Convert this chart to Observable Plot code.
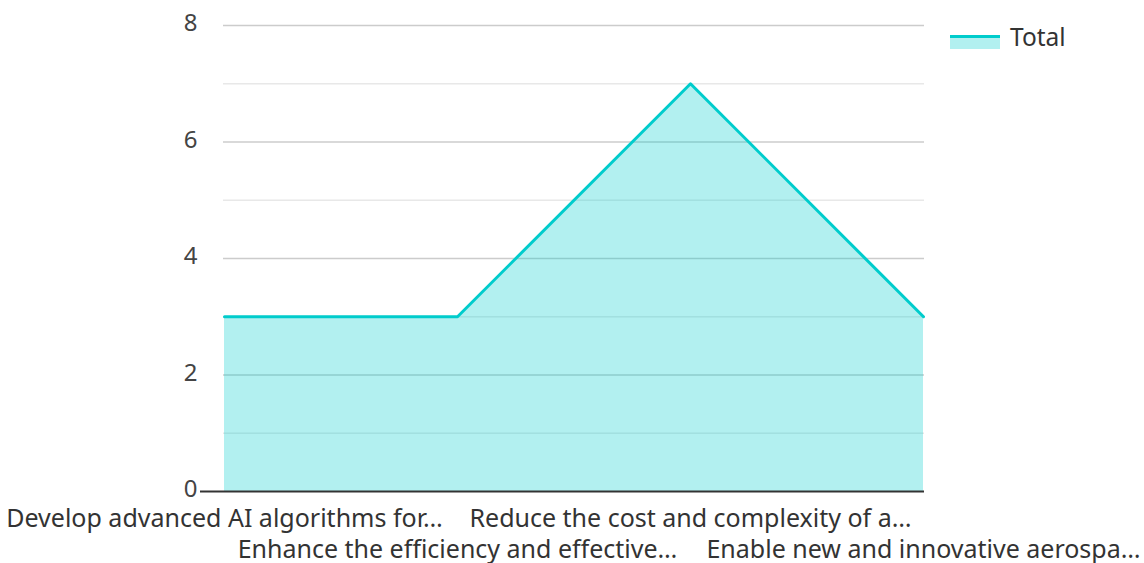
<!DOCTYPE html>
<html>
<head>
<meta charset="utf-8">
<script src="https://cdn.jsdelivr.net/npm/d3@7"></script>
<script src="https://cdn.jsdelivr.net/npm/@observablehq/plot@0.6"></script>
<style>
  html, body { margin: 0; padding: 0; background: #fff; }
  #wrap { position: relative; width: 1144px; height: 563px; font-family: "Noto Sans", sans-serif; }
  #legend { position: absolute; left: 950px; top: 20px; display: flex; align-items: center; font-size: 24.5px; color: #333; }
  #legend .sw { width: 50px; height: 14px; position: relative; margin-right: 10px; margin-top: 10px; }
  #legend .sw .fill { position: absolute; left: 0; top: 0; width: 50px; height: 14px; background: rgba(0,204,204,0.3); }
  #legend .sw .ln { position: absolute; left: 0; top: 0; width: 50px; height: 3px; background: #00cccc; }
</style>
</head>
<body>
<div id="wrap"><div id="legend"><div class="sw"><div class="fill"></div><div class="ln"></div></div><span>Total</span></div></div>
<script>
const categories = [
  "Develop advanced AI algorithms for…",
  "Enhance the efficiency and effective…",
  "Reduce the cost and complexity of a…",
  "Enable new and innovative aerospa…"
];
const totals = [3, 3, 7, 3];
const majorTicks = [0, 2, 4, 6, 8];
const minorTicks = [1, 3, 5, 7];
const seriesName = "Total";

const data = categories.map((c, i) => ({category: c, value: totals[i], row: i % 2}));

const chart = Plot.plot({
  width: 1144,
  height: 563,
  marginTop: 25,
  marginBottom: 72,
  marginLeft: 223,
  marginRight: 220,
  style: {fontFamily: "Noto Sans, sans-serif", fontSize: "25px", color: "#444", background: "transparent"},
  x: {type: "point", domain: categories, padding: 0, axis: null},
  y: {domain: [0, 8], axis: null},
  marks: [
    Plot.ruleY(minorTicks, {stroke: "#e8e8e8", strokeWidth: 1.5}),
    Plot.ruleY(majorTicks.filter(d => d > 0), {stroke: "#cccccc", strokeWidth: 1.5}),
    Plot.areaY(data, {x: "category", y: "value", fill: "#00cccc", fillOpacity: 0.3}),
    Plot.lineY(data, {x: "category", y: "value", stroke: "#00cccc", strokeWidth: 3}),
    Plot.ruleY([0], {stroke: "#333", strokeWidth: 2, insetLeft: -23}),
    Plot.text(majorTicks, {y: d => d, frameAnchor: "left", dx: -26, dy: -2, textAnchor: "end", text: d => String(d), fill: "#444", fontSize: 24}),
    Plot.text(data.filter(d => d.row === 0), {x: "category", y: () => 0, text: "category", dy: 27, fill: "#333", fontSize: 25}),
    Plot.text(data.filter(d => d.row === 1), {x: "category", y: () => 0, text: "category", dy: 58, fill: "#333", fontSize: 25})
  ]
});
document.getElementById("wrap").prepend(chart);
chart.style.position = "absolute";
chart.style.left = "0";
chart.style.top = "0";
</script>
</body>
</html>
